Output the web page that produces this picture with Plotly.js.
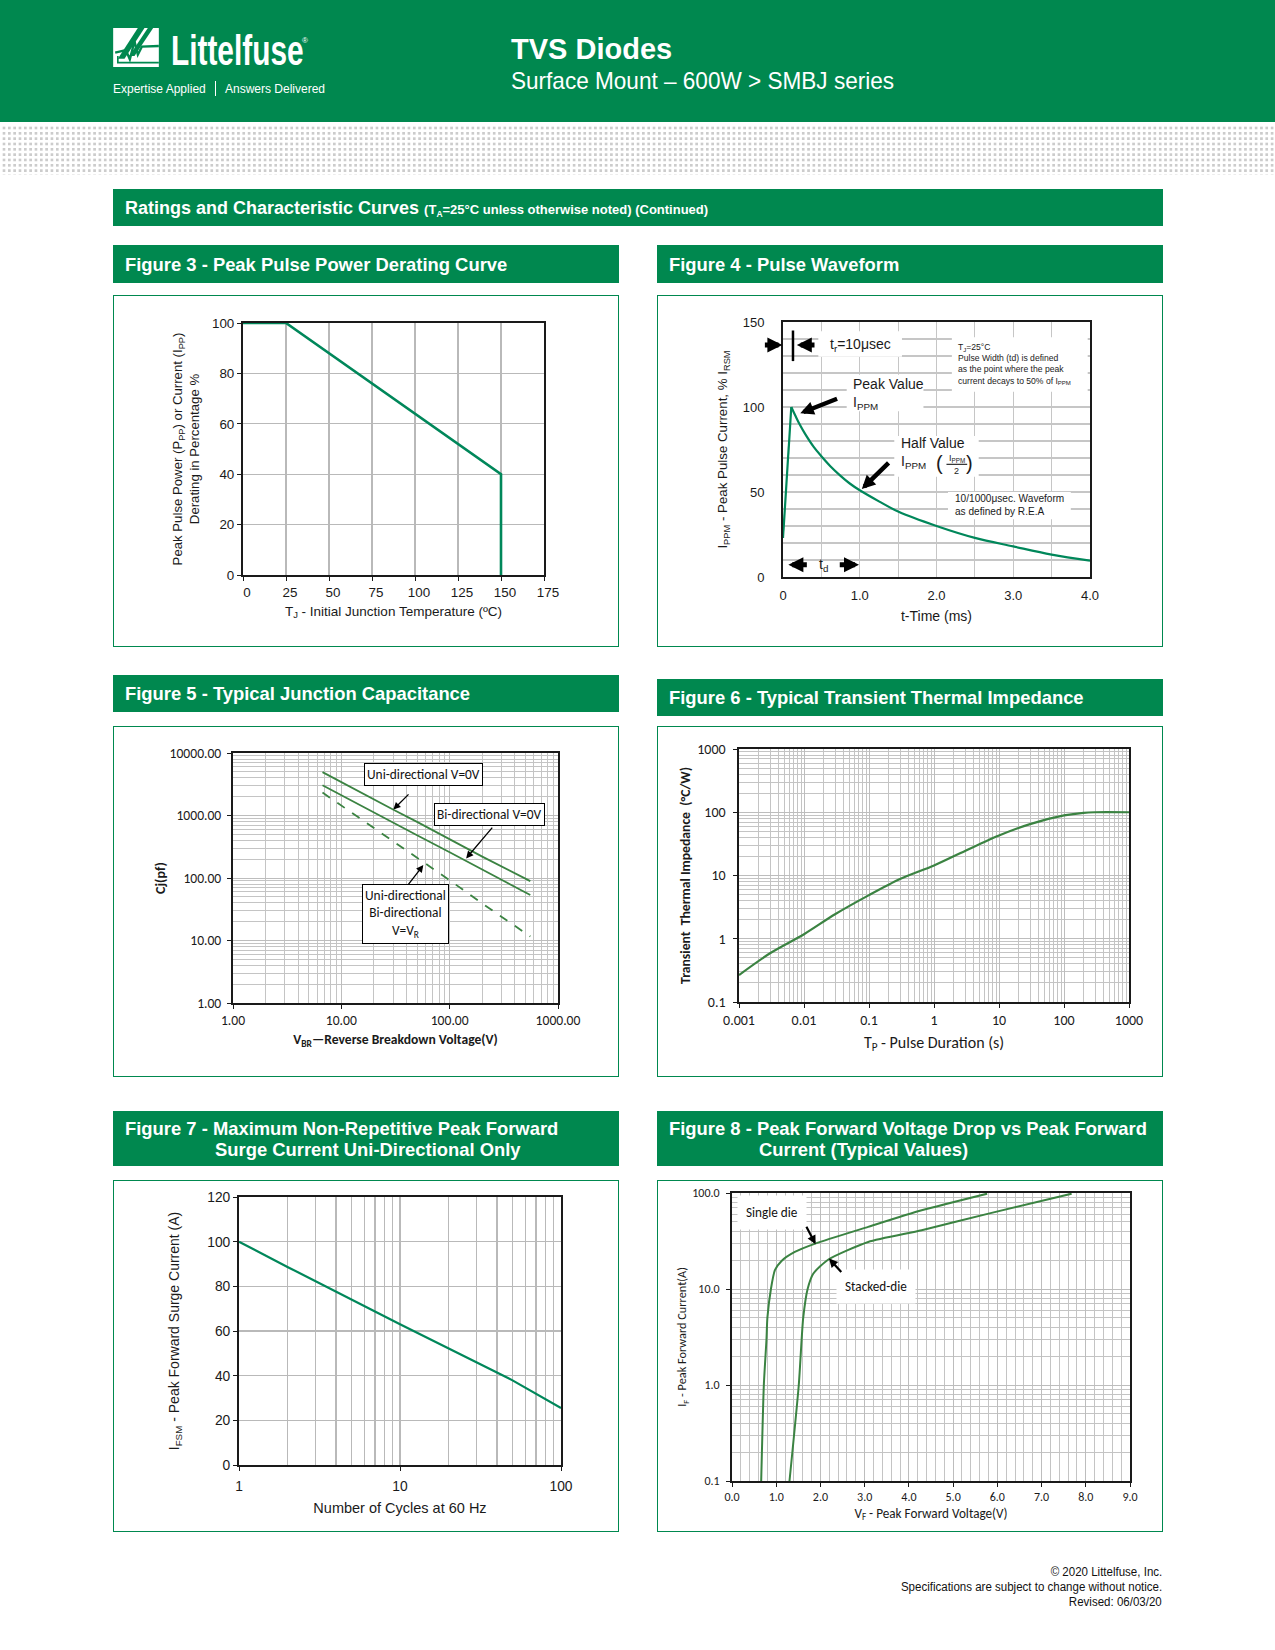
<!DOCTYPE html>
<html><head><meta charset="utf-8">
<script src="https://cdn.plot.ly/plotly-3.0.1.min.js"></script>
<style>
html,body{margin:0;padding:0;background:#fff}
body{width:1275px;height:1650px;position:relative;overflow:hidden;font-family:"Liberation Sans",Arial,sans-serif}
.a{position:absolute}
.green{background:#00884f;color:#fff}
.bar{font-weight:bold;font-size:18.4px;line-height:21px;box-sizing:border-box;padding-left:12px;display:flex;flex-direction:column;justify-content:center;white-space:nowrap}
.box{border:1.5px solid #00884f;box-sizing:border-box;pointer-events:none;z-index:5}
.dots{background-image:linear-gradient(90deg,#fff 0 2.33px,transparent 2.33px),linear-gradient(180deg,#fff 0 2.33px,#cccccc 2.33px);background-size:5.33px 5.33px}
.foot{right:113px;text-align:right;font-size:12px;line-height:15px;color:#111;white-space:nowrap;transform:scaleX(0.96);transform-origin:right center}
</style></head><body>

<div class="a green" style="left:0;top:0;width:1275px;height:122px"></div>
<svg class="a" style="left:113px;top:28px" width="46" height="39" viewBox="0 0 137 117">
 <rect x="0" y="0" width="137" height="117" fill="#fff"/>
 <polygon points="74,0 94,0 34,92 14,92" fill="#00884f"/>
 <polygon points="104,0 120,0 64,84 48,84" fill="#00884f"/>
 <polyline points="6,74 38,66 50,94 64,40 74,80 86,56 137,54" fill="none" stroke="#00884f" stroke-width="7"/>
 <polyline points="14,84 14,104 137,104" fill="none" stroke="#00884f" stroke-width="5"/>
</svg>
<div class="a" style="left:171px;top:30px;font-size:42px;line-height:42px;font-weight:bold;color:#fff;transform:scaleX(0.71);transform-origin:left top;white-space:nowrap">Littelfuse</div>
<div class="a" style="left:302px;top:36px;font-size:8px;color:#fff">®</div>
<div class="a" style="left:113px;top:82px;font-size:12px;line-height:14px;color:#fff;white-space:nowrap">Expertise Applied</div>
<div class="a" style="left:215px;top:81px;width:1px;height:15px;background:#fff"></div>
<div class="a" style="left:225px;top:82px;font-size:12px;line-height:14px;color:#fff;white-space:nowrap">Answers Delivered</div>
<div class="a" style="left:511px;top:35px;font-size:29px;line-height:29px;font-weight:bold;color:#fff;white-space:nowrap">TVS Diodes</div>
<div class="a" style="left:511px;top:69px;font-size:24px;line-height:24px;color:#fff;white-space:nowrap;transform:scaleX(0.94);transform-origin:left top">Surface Mount – 600W &gt; SMBJ series</div>

<div class="a dots" style="left:0;top:124px;width:1275px;height:51px"></div>

<div class="a green bar" style="left:113px;top:189px;width:1050px;height:37px;font-size:18px"><div style="line-height:18px;padding-top:3px">Ratings and Characteristic Curves <span style="font-size:13px">(T<span style="font-size:8.5px;position:relative;top:3px">A</span>=25°C unless otherwise noted) (Continued)</span></div></div>

<div class="a green bar" style="left:113px;top:245px;width:506px;height:38px">Figure 3 - Peak Pulse Power Derating Curve</div>
<div class="a green bar" style="left:657px;top:245px;width:506px;height:38px">Figure 4 - Pulse Waveform</div>
<div class="a green bar" style="left:113px;top:675px;width:506px;height:37px">Figure 5 - Typical Junction Capacitance</div>
<div class="a green bar" style="left:657px;top:679px;width:506px;height:37px">Figure 6 - Typical Transient Thermal Impedance</div>
<div class="a green bar" style="left:113px;top:1111px;width:506px;height:55px"><div>Figure 7 - Maximum Non-Repetitive Peak Forward</div><div style="padding-left:90px">Surge Current Uni-Directional Only</div></div>
<div class="a green bar" style="left:657px;top:1111px;width:506px;height:55px"><div>Figure 8 - Peak Forward Voltage Drop vs Peak Forward</div><div style="padding-left:90px">Current (Typical Values)</div></div>

<div id="f3" class="a" style="left:113px;top:295px;width:506px;height:352px"></div>
<div id="f4" class="a" style="left:658px;top:295px;width:504px;height:352px"></div>
<div id="f5" class="a" style="left:113px;top:726px;width:506px;height:351px"></div>
<div id="f6" class="a" style="left:658px;top:726px;width:504px;height:351px"></div>
<div id="f7" class="a" style="left:113px;top:1180px;width:506px;height:352px"></div>
<div id="f8" class="a" style="left:658px;top:1180px;width:504px;height:352px"></div>

<div class="a box" style="left:113px;top:295px;width:506px;height:352px"></div>
<div class="a box" style="left:657px;top:295px;width:506px;height:352px"></div>
<div class="a box" style="left:113px;top:726px;width:506px;height:351px"></div>
<div class="a box" style="left:657px;top:726px;width:506px;height:351px"></div>
<div class="a box" style="left:113px;top:1180px;width:506px;height:352px"></div>
<div class="a box" style="left:657px;top:1180px;width:506px;height:352px"></div>

<div class="a foot" style="top:1565px">© 2020 Littelfuse, Inc.</div>
<div class="a foot" style="top:1580px">Specifications are subject to change without notice.</div>
<div class="a foot" style="top:1595px">Revised: 06/03/20</div>

<script>
// ---------------- DATA ----------------
// Figure 3 - derating
const f3Temp = [0, 25, 150, 150];
const f3Pct = [100, 100, 40, 0];
const f3XTicks = [0, 25, 50, 75, 100, 125, 150, 175];
const f3YTicks = [0, 20, 40, 60, 80, 100];

// Figure 4 - pulse waveform (rise, then decay)
const f4RiseTime = [0, 0.108];
const f4RiseCurr = [23, 100];
const f4DecayTime = [0.108, 0.16, 0.22, 0.29, 0.4, 0.5, 0.62, 0.75, 0.87, 1.0, 1.25, 1.5, 2.0, 2.5, 3.0, 3.5, 4.0];
const f4DecayCurr = [100, 95, 89.5, 84, 76.5, 71, 65, 59.5, 55, 51, 44.5, 38.5, 30, 23, 18, 13.2, 9.6];
const f4XTicks = [0, 1, 2, 3, 4];
const f4XLabels = ['0', '1.0', '2.0', '3.0', '4.0'];
const f4YTicks = [0, 50, 100, 150];

// Figure 5 - junction capacitance
const f5Volt = [6.7, 10, 20, 30, 50, 100, 200, 555];
const f5UniZero = [4950, 3400, 1780, 1250, 790, 415, 220, 89];
const f5BiZero = [3050, 2100, 1110, 770, 483, 258, 135, 53.5];
const f5AtVr = [2330, 1440, 622, 395, 212, 92, 39, 11.6];
const f5XTicks = [1, 10, 100, 1000];
const f5XLabels = ['1.00', '10.00', '100.00', '1000.00'];
const f5YTicks = [1, 10, 100, 1000, 10000];
const f5YLabels = ['1.00', '10.00', '100.00', '1000.00', '10000.00'];

// Figure 6 - transient thermal impedance
const f6Tp = [0.001, 0.003, 0.01, 0.03, 0.1, 0.3, 1, 3, 10, 30, 100, 200, 300, 1000];
const f6Z = [0.267, 0.59, 1.18, 2.44, 4.9, 8.8, 14.4, 24.5, 43, 65, 89, 98, 100, 100];
const f6XTicks = [0.001, 0.01, 0.1, 1, 10, 100, 1000];
const f6XLabels = ['0.001', '0.01', '0.1', '1', '10', '100', '1000'];
const f6YTicks = [0.1, 1, 10, 100, 1000];
const f6YLabels = ['0.1', '1', '10', '100', '1000'];

// Figure 7 - surge current
const f7Cycles = [1, 2, 10, 50, 100];
const f7Ifsm = [100, 88.7, 63, 37.9, 25.5];
const f7XTicks = [1, 10, 100];
const f7YTicks = [0, 20, 40, 60, 80, 100, 120];

// Figure 8 - forward voltage
const f8SingleV = [0.66, 0.72, 0.78, 0.80, 0.88, 0.97, 1.12, 1.42, 1.88, 3.08, 4.29, 5.77];
const f8SingleI = [0.1, 1, 3, 5, 10, 15.7, 19.6, 24.3, 29.7, 44.4, 66, 98.4];
const f8StackV = [1.30, 1.51, 1.575, 1.61, 1.71, 1.84, 2.18, 3.08, 4.29, 5.80, 7.68];
const f8StackI = [0.1, 1, 3, 5, 10, 14.5, 20.3, 30.9, 40.9, 61, 98.4];
const f8XTicks = [0, 1, 2, 3, 4, 5, 6, 7, 8, 9];
const f8XLabels = ['0.0', '1.0', '2.0', '3.0', '4.0', '5.0', '6.0', '7.0', '8.0', '9.0'];
const f8YTicks = [0.1, 1, 10, 100];
const f8YLabels = ['0.1', '1.0', '10.0', '100.0'];

// ---------------- STYLE HELPERS ----------------
const GREEN = '#00875a';
const XLGREEN = '#3b8342';
const ARIAL = 'Liberation Sans, Arial, sans-serif';
const CALI = 'Carlito, Lato, Open Sans, sans-serif';
const cfg = {staticPlot: true, displayModeBar: false};

function ax(o) {
  return Object.assign({
    showline: true, mirror: true, linecolor: '#1a1a1a', linewidth: 2, zeroline: false,
    showgrid: true, gridcolor: '#b9b9b9', gridwidth: 1.2, ticks: 'outside', ticklen: 4,
    tickcolor: '#1a1a1a', tickwidth: 1, tickmode: 'array', fixedrange: true
  }, o);
}
function logMinors(lo, hi) {
  const v = [];
  for (let e = lo; e < hi; e++) for (let m = 2; m <= 9; m++) v.push(+(m * Math.pow(10, e)).toPrecision(6));
  return v;
}
function linMinors(lo, hi, step) {
  const v = [];
  for (let k = Math.round(lo / step); k * step <= hi + 1e-9; k++) v.push(+(k * step).toFixed(6));
  return v;
}
function base(w, h, m, fam, size) {
  return {width: w, height: h, margin: m, paper_bgcolor: 'rgba(0,0,0,0)', plot_bgcolor: '#fff',
    showlegend: false, font: {family: fam, size: size, color: '#1a1a1a'}};
}
function arrow(x, y, axv, ayv, w, s, extra) {
  return Object.assign({x: x, y: y, ax: axv, ay: ayv, axref: 'x', ayref: 'y', xref: 'x', yref: 'y',
    text: '', showarrow: true, arrowhead: 2, arrowwidth: w, arrowsize: s, arrowcolor: '#000', standoff: 0, startstandoff: 0}, extra || {});
}

// ---------------- FIGURE 3 ----------------
(function () {
  const L = base(506, 352, {l: 130, r: 75, t: 28, b: 72}, ARIAL, 13.4);
  L.xaxis = ax({range: [0, 175], tickvals: f3XTicks, ticklabelstandoff: 0, ticklabelshift: 4,
    title: {text: 'T<sub>J</sub> - Initial Junction Temperature (ºC)', font: {size: 13.5}, standoff: 7}});
  L.yaxis = ax({range: [0, 100], tickvals: f3YTicks, ticklabelstandoff: 0,
    title: {text: 'Peak Pulse Power (P<sub>PP</sub>) or Current (I<sub>PP</sub>)<br>Derating in Percentage %', font: {size: 13.2}, standoff: 9}});
  Plotly.newPlot('f3', [{x: f3Temp, y: f3Pct, mode: 'lines', line: {color: GREEN, width: 2.6}, cliponaxis: false}], L, cfg);
})();

// ---------------- FIGURE 4 ----------------
(function () {
  const L = base(504, 352, {l: 125, r: 72, t: 27, b: 70}, ARIAL, 13);
  L.xaxis = ax({range: [0, 4], tickvals: f4XTicks, ticktext: f4XLabels, ticks: '', ticklabelstandoff: 5,
    gridcolor: '#c6c6c6', minor: {dtick: 0.5, showgrid: true, gridcolor: '#c6c6c6', gridwidth: 1.2, ticks: ''},
    title: {text: 't-Time (ms)', font: {size: 14}, standoff: 10}});
  L.yaxis = ax({range: [0, 150], tickvals: f4YTicks, ticks: '', ticklabelstandoff: 14,
    gridcolor: '#c6c6c6', minor: {dtick: 10, showgrid: true, gridcolor: '#c6c6c6', gridwidth: 1.2, ticks: ''},
    title: {text: 'I<sub>PPM</sub> - Peak Pulse Current, % I<sub>RSM</sub>', font: {size: 13.3}, standoff: 12}});
  const white = {type: 'rect', xref: 'x', yref: 'y', fillcolor: '#fff', line: {width: 0}, layer: 'above'};
  L.shapes = [
    Object.assign({x0: 0.46, x1: 1.55, y0: 129.5, y1: 144.5}, white),
    Object.assign({x0: 2.2, x1: 3.97, y0: 109, y1: 141}, white),
    Object.assign({x0: 0.83, x1: 1.83, y0: 97.5, y1: 119}, white),
    Object.assign({x0: 1.45, x1: 2.55, y0: 59, y1: 83}, white),
    Object.assign({x0: 2.15, x1: 3.75, y0: 34, y1: 50}, white),
    {type: 'line', xref: 'x', yref: 'y', x0: 0.13, x1: 0.13, y0: 127, y1: 145, line: {color: '#000', width: 2.5}, layer: 'above'},
    {type: 'line', xref: 'x', yref: 'y', x0: 2.13, x1: 2.40, y0: 66.3, y1: 66.3, line: {color: '#000', width: 1}, layer: 'above'}
  ];
  L.annotations = [
    {xref: 'paper', yref: 'y', x: -0.002, y: 136.5, ax: -19, ay: 0, text: '', showarrow: true, arrowhead: 2, arrowwidth: 5, arrowsize: 0.6, arrowcolor: '#000'},
    arrow(0.18, 136.5, 0.43, 136.5, 5, 0.6),
    {x: 0.58, y: 136.5, xref: 'x', yref: 'y', xanchor: 'left', showarrow: false, text: 't<sub>r</sub>=10μsec', font: {size: 14, color: '#1a1a1a'}},
    {x: 2.26, y: 125.5, xref: 'x', yref: 'y', xanchor: 'left', align: 'left', showarrow: false,
      text: 'T<sub>J</sub>=25°C<br>Pulse Width (td) is defined<br>as the point where the peak<br>current decays to 50% of I<sub>PPM</sub>',
      font: {size: 8.6, color: '#1a1a1a'}},
    {x: 0.885, y: 107.5, xref: 'x', yref: 'y', xanchor: 'left', align: 'left', showarrow: false,
      text: 'Peak Value<br>I<sub>PPM</sub>', font: {size: 14, color: '#1a1a1a'}},
    arrow(0.225, 96.3, 0.724, 105.2, 4.5, 0.6),
    {x: 1.515, y: 73, xref: 'x', yref: 'y', xanchor: 'left', align: 'left', showarrow: false,
      text: 'Half Value<br>I<sub>PPM</sub>', font: {size: 14, color: '#1a1a1a'}},
    {x: 2.045, y: 67, xref: 'x', yref: 'y', showarrow: false, text: '(', font: {size: 20, color: '#1a1a1a'}},
    {x: 2.435, y: 67, xref: 'x', yref: 'y', showarrow: false, text: ')', font: {size: 20, color: '#1a1a1a'}},
    {x: 2.265, y: 69.8, xref: 'x', yref: 'y', showarrow: false, text: 'I<sub>PPM</sub>', font: {size: 9, color: '#1a1a1a'}},
    {x: 2.265, y: 62.3, xref: 'x', yref: 'y', showarrow: false, text: '2', font: {size: 9, color: '#1a1a1a'}},
    arrow(1.027, 51.7, 1.395, 68, 4.5, 0.6),
    {x: 2.22, y: 42.2, xref: 'x', yref: 'y', xanchor: 'left', align: 'left', showarrow: false,
      text: '10/1000μsec. Waveform<br>as defined by R.E.A', font: {size: 10.1, color: '#1a1a1a'}},
    arrow(0.07, 7.2, 0.33, 7.2, 5, 0.6),
    arrow(0.99, 7.2, 0.72, 7.2, 5, 0.6),
    {x: 0.53, y: 7.2, xref: 'x', yref: 'y', showarrow: false, text: 't<sub>d</sub>', font: {size: 14, color: '#1a1a1a'}}
  ];
  Plotly.newPlot('f4', [
    {x: f4RiseTime, y: f4RiseCurr, mode: 'lines', line: {color: GREEN, width: 2.2}},
    {x: f4DecayTime, y: f4DecayCurr, mode: 'lines', line: {color: GREEN, width: 2.2, shape: 'spline', smoothing: 1}}
  ], L, cfg);
})();

// ---------------- FIGURE 5 ----------------
(function () {
  const L = base(506, 351, {l: 120, r: 61, t: 27, b: 74}, CALI, 13.6);
  L.xaxis = ax({type: 'log', range: [0, 3], tickvals: f5XTicks, ticktext: f5XLabels, ticklabelstandoff: 0, linewidth: 2,
    gridcolor: '#bdbdbd', gridwidth: 1,
    minor: {tickmode: 'array', tickvals: logMinors(0, 3), showgrid: true, gridcolor: '#c4c4c4', gridwidth: 1, ticks: ''},
    title: {text: '<b>V<sub>BR</sub>—Reverse Breakdown Voltage(V)</b>', font: {size: 13.6}, standoff: 6}});
  L.yaxis = ax({type: 'log', range: [0, 4], tickvals: f5YTicks, ticktext: f5YLabels, ticklabelstandoff: 3, linewidth: 2,
    gridcolor: '#bdbdbd', gridwidth: 1,
    minor: {tickmode: 'array', tickvals: logMinors(0, 4), showgrid: true, gridcolor: '#c4c4c4', gridwidth: 1, ticks: ''},
    title: {text: '<b>Cj(pf)</b>', font: {size: 14}, standoff: 1}});
  const boxed = {xref: 'x', yref: 'y', showarrow: false, bgcolor: '#fff', bordercolor: '#000', borderwidth: 1, borderpad: 2, font: {size: 13.4, color: '#111'}};
  L.annotations = [
    arrow(1.48, 3.096, 1.634, 3.362, 1.3, 1.1),
    arrow(2.152, 2.314, 2.405, 2.83, 1.3, 1.1),
    arrow(1.757, 2.207, 1.603, 1.862, 1.3, 1.1),
    Object.assign({x: 1.754, y: 3.662, text: 'Uni-directional V=0V'}, boxed),
    Object.assign({x: 2.368, y: 3.024, text: 'Bi-directional V=0V'}, boxed),
    Object.assign({x: 1.596, y: 1.423, text: 'Uni-directional<br>Bi-directional<br>V=V<sub>R</sub>', borderpad: 3}, boxed)
  ];
  Plotly.newPlot('f5', [
    {x: f5Volt, y: f5UniZero, mode: 'lines', line: {color: XLGREEN, width: 1.8}},
    {x: f5Volt, y: f5BiZero, mode: 'lines', line: {color: XLGREEN, width: 1.8}},
    {x: f5Volt, y: f5AtVr, mode: 'lines', line: {color: XLGREEN, width: 1.8, dash: 'dash'}}
  ], L, cfg);
})();

// ---------------- FIGURE 6 ----------------
(function () {
  const L = base(504, 351, {l: 81, r: 33, t: 23, b: 75}, CALI, 14);
  L.xaxis = ax({type: 'log', range: [-3, 3], tickvals: f6XTicks, ticktext: f6XLabels, ticklabelstandoff: 1, linewidth: 1.6,
    gridcolor: '#bdbdbd', gridwidth: 1,
    minor: {tickmode: 'array', tickvals: logMinors(-3, 3), showgrid: true, gridcolor: '#c4c4c4', gridwidth: 1, ticks: ''},
    title: {text: 'T<sub>P</sub> - Pulse Duration (s)', font: {size: 16}, standoff: 8}});
  L.yaxis = ax({type: 'log', range: [-1, 3], tickvals: f6YTicks, ticktext: f6YLabels, ticklabelstandoff: 5, linewidth: 1.6,
    gridcolor: '#bdbdbd', gridwidth: 1,
    minor: {tickmode: 'array', tickvals: logMinors(-1, 3), showgrid: true, gridcolor: '#c4c4c4', gridwidth: 1, ticks: ''},
    title: {text: '<b>Transient  Thermal Impedance  (°C/W)</b>', font: {size: 13.7}, standoff: 3}});
  Plotly.newPlot('f6', [{x: f6Tp, y: f6Z, mode: 'lines', line: {color: XLGREEN, width: 2.2, shape: 'spline', smoothing: 0.8}}], L, cfg);
})();

// ---------------- FIGURE 7 ----------------
(function () {
  const L = base(506, 352, {l: 126, r: 58, t: 17, b: 67}, ARIAL, 13.8);
  L.xaxis = ax({type: 'log', range: [0, 2], tickvals: f7XTicks, ticklabelstandoff: 3,
    minor: {tickmode: 'array', tickvals: logMinors(0, 2), showgrid: true, gridcolor: '#b9b9b9', gridwidth: 1.2, ticks: ''},
    title: {text: 'Number of Cycles at 60 Hz', font: {size: 14.5}, standoff: 10}});
  L.yaxis = ax({range: [0, 120], tickvals: f7YTicks, ticklabelstandoff: 0,
    title: {text: 'I<sub>FSM</sub> - Peak Forward Surge Current (A)', font: {size: 14}, standoff: 24}});
  Plotly.newPlot('f7', [{x: f7Cycles, y: f7Ifsm, mode: 'lines', line: {color: GREEN, width: 2.2}}], L, cfg);
})();

// ---------------- FIGURE 8 ----------------
(function () {
  const L = base(504, 352, {l: 74, r: 32, t: 13, b: 51}, CALI, 12);
  L.xaxis = ax({range: [0, 9], tickvals: f8XTicks, ticktext: f8XLabels, ticklabelstandoff: 0,
    gridcolor: '#bdbdbd', gridwidth: 1,
    minor: {tickmode: 'array', tickvals: linMinors(0, 9, 0.2), showgrid: true, gridcolor: '#c4c4c4', gridwidth: 1, ticks: ''},
    title: {text: 'V<sub>F</sub> - Peak Forward Voltage(V)', font: {size: 13.2}, standoff: 5}});
  L.yaxis = ax({type: 'log', range: [-1, 2], tickvals: f8YTicks, ticktext: f8YLabels, ticklabelstandoff: 4,
    gridcolor: '#bdbdbd', gridwidth: 1,
    minor: {tickmode: 'array', tickvals: logMinors(-1, 2), showgrid: true, gridcolor: '#c4c4c4', gridwidth: 1, ticks: ''},
    title: {text: 'I<sub>F</sub> - Peak Forward Current(A)', font: {size: 12.3}, standoff: 3}});
  L.annotations = [
    {x: 0.908, y: 1.792, xref: 'x', yref: 'y', showarrow: false, text: 'Single die', bgcolor: '#fff', borderpad: 8, font: {size: 13.2, color: '#111'}},
    {x: 3.248, y: 1.029, xref: 'x', yref: 'y', showarrow: false, text: 'Stacked-die', bgcolor: '#fff', borderpad: 8, font: {size: 13.2, color: '#111'}},
    arrow(1.891, 1.466, 1.665, 1.664, 2.2, 0.8),
    arrow(2.193, 1.317, 2.502, 1.161, 2.2, 0.8)
  ];
  Plotly.newPlot('f8', [
    {x: f8SingleV, y: f8SingleI, mode: 'lines', line: {color: XLGREEN, width: 2, shape: 'spline', smoothing: 0.6}},
    {x: f8StackV, y: f8StackI, mode: 'lines', line: {color: XLGREEN, width: 2, shape: 'spline', smoothing: 0.6}}
  ], L, cfg);
})();
</script>
</body></html>
